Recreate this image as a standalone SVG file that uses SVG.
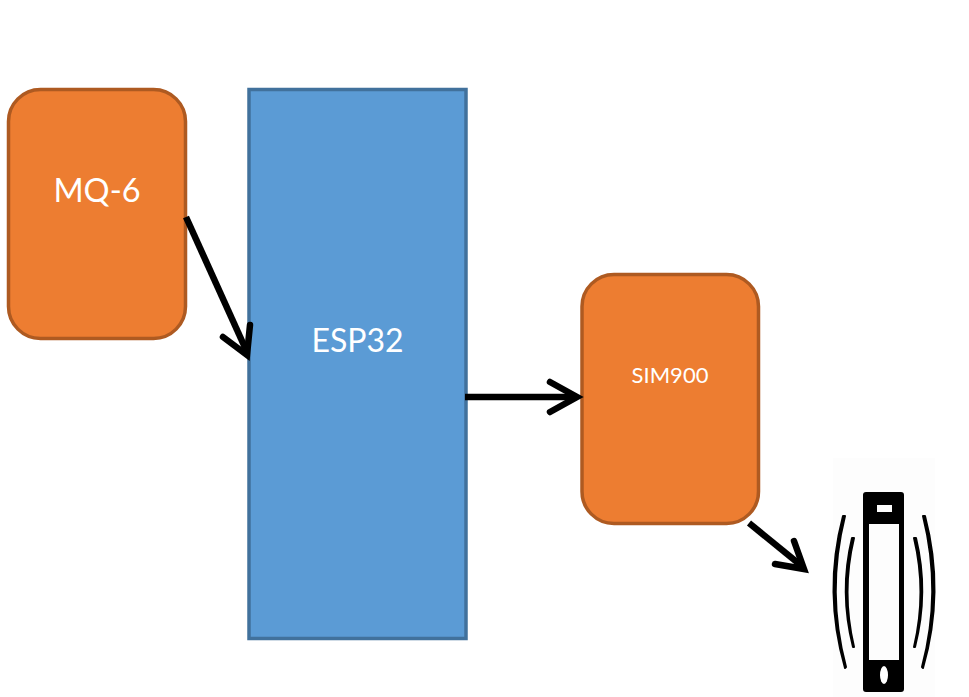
<svg xmlns="http://www.w3.org/2000/svg" width="969" height="697" viewBox="0 0 969 697">
<style>
.o{fill:#ED7D31;stroke:#AE5A21;stroke-width:3.5}
.b{fill:#5B9BD5;stroke:#41719C;stroke-width:3.5}
.t{fill:#fff;font-family:"Lato","Open Sans",sans-serif;text-anchor:middle}
.c{fill:none;stroke:#000;stroke-width:6.500;stroke-linecap:butt}
.h{fill:none;stroke:#000;stroke-width:6.500;stroke-linecap:round;stroke-linejoin:miter}
.a{fill:#000;stroke:#000;stroke-width:2;stroke-linejoin:round}
</style>
<rect width="969" height="697" fill="#fff"/>
<g id="mq6"><rect class="o" x="8.5" y="89.500" width="177" height="249" rx="32"/><text class="t" x="97" y="202" font-size="32.500">MQ-6</text></g>
<g id="esp32"><rect class="b" x="249" y="89.500" width="217" height="549"/><text class="t" x="357.500" y="352" font-size="32">ESP32</text></g>
<g id="sim900"><rect class="o" x="582" y="274.500" width="176.500" height="249" rx="32"/><text class="t" x="670" y="383" font-size="22">SIM900</text></g>
<g id="phone">
<rect x="833" y="458" width="102" height="239" fill="#fdfdfd"/>
<path fill="#000" fill-rule="evenodd" d="M866 492H901Q904 492 904 495V689Q904 692 901 692H866Q863 692 863 689V495Q863 492 866 492ZM869 524V660H899V524ZM877 505V512H892V505Z"/>
<ellipse cx="884" cy="675" rx="4" ry="9" fill="#fff"/>
<path class="a" d="M843 516L845 516Q826 592 846 667L845 668Q823 592 843 516Z"/>
<path class="a" d="M852 538L854 538Q841 592 854 647L853 647Q839 592 852 538Z"/>
<path class="a" d="M925 516L923 516Q942 592 922 667L923 668Q945 592 925 516Z"/>
<path class="a" d="M916 538L914 538Q927 592 914 647L915 647Q929 592 916 538Z"/>
</g>
<g id="connectors">
<path class="c" d="M186 217L247 352"/>
<path class="h" d="M223 337L247 355L250 325"/>
<path class="c" d="M465 397H577"/>
<path class="h" d="M550 382L577 397L550 412"/>
<path class="c" d="M749 523L803 567"/>
<path class="h" d="M775 564L804 569L794 541"/>
</g>
</svg>
